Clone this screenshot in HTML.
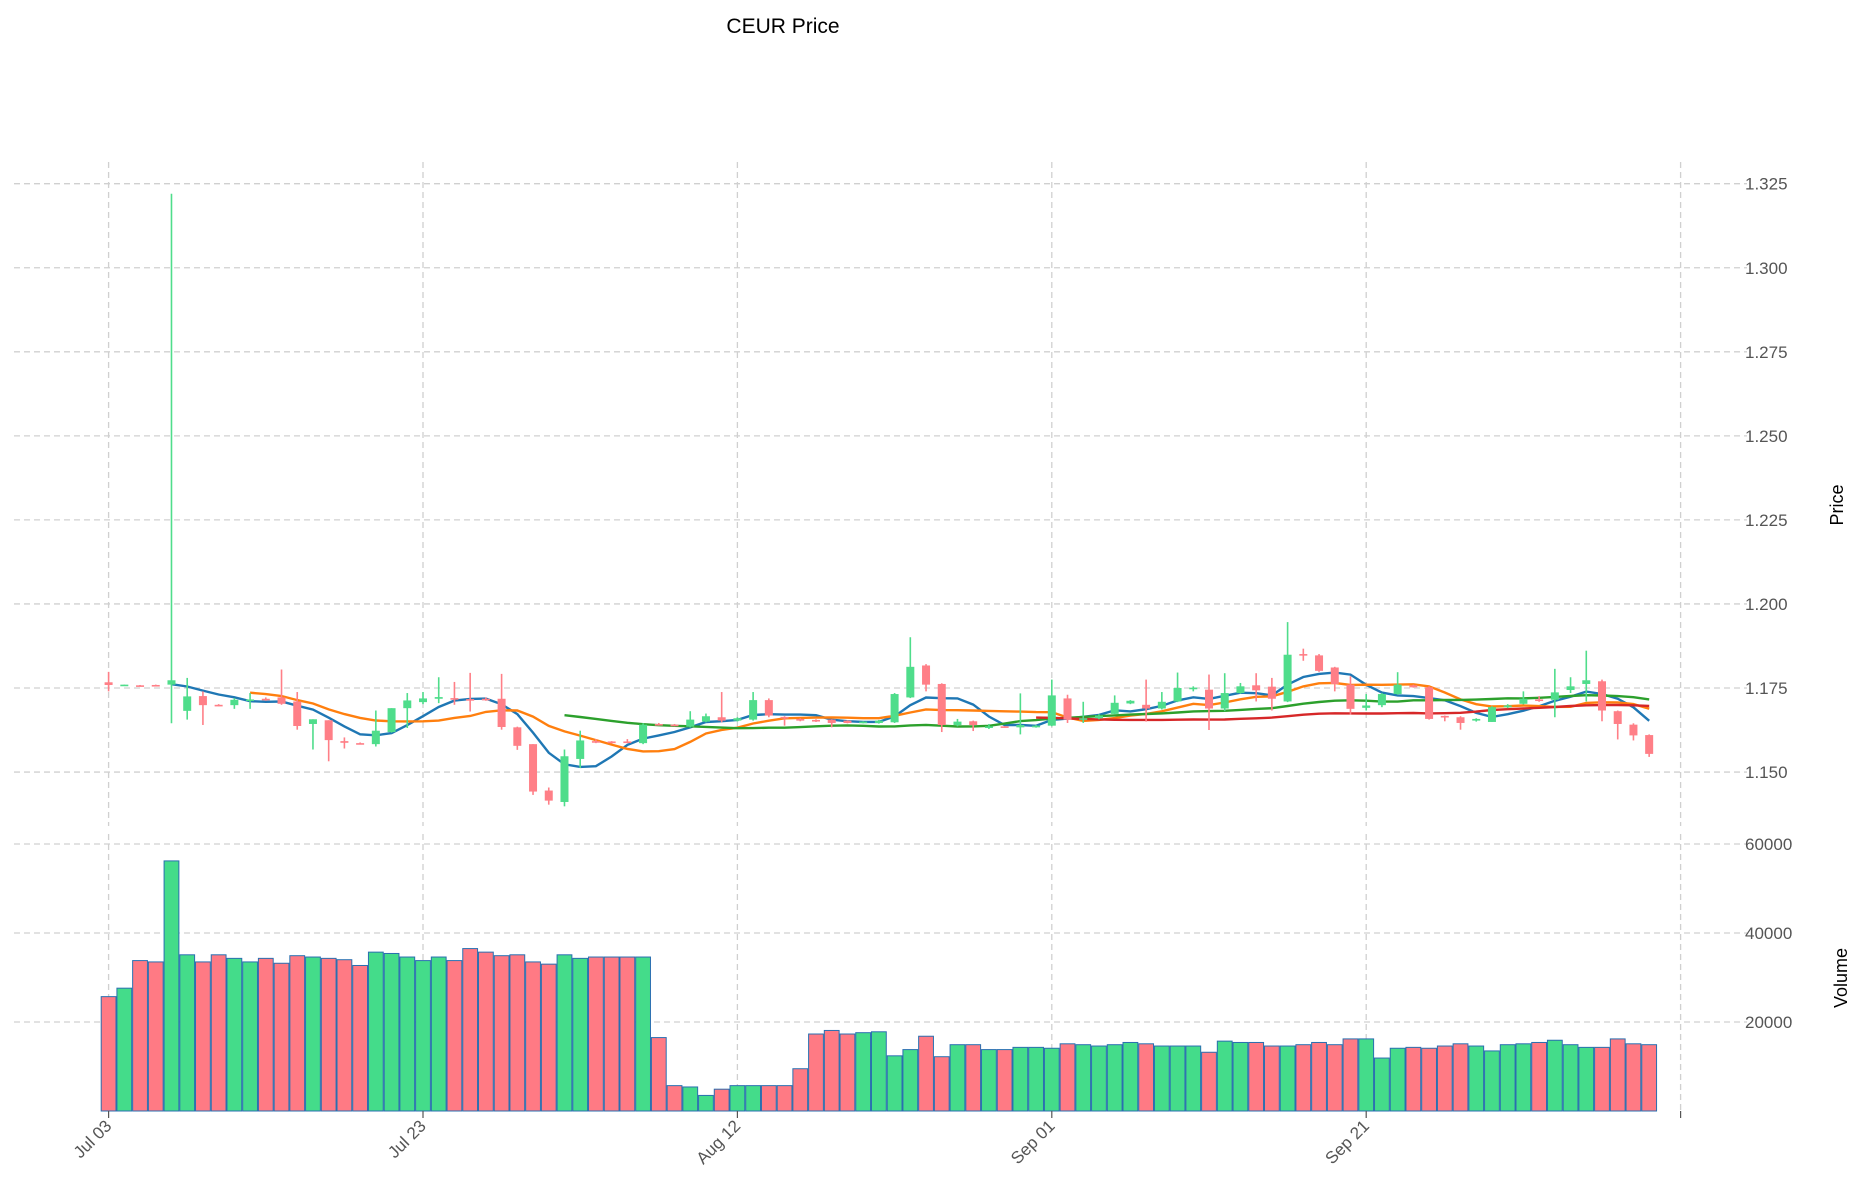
<!DOCTYPE html>
<html><head><meta charset="utf-8">
<style>
html,body{margin:0;padding:0;background:#fff;}
svg{display:block;font-family:"Liberation Sans","DejaVu Sans",sans-serif;}
</style></head>
<body>
<svg id="chart" width="1867" height="1202" viewBox="0 0 1867 1202" xmlns="http://www.w3.org/2000/svg">
<text x="783" y="33" font-size="21" text-anchor="middle" fill="#000">CEUR Price</text>
<g id="grid"></g>
<g id="vol"></g>
<g id="ma"></g>
<g id="candles"></g>
<g id="axes"></g>
</svg>
<script>
const opens=[1.1767,1.1758,1.1758,1.1759,1.1760,1.1682,1.1726,1.1700,1.1699,1.1712,1.1718,1.1722,1.1710,1.1643,1.1654,1.1592,1.1586,1.1583,1.1619,1.1690,1.1708,1.1718,1.1720,1.1717,1.1718,1.1718,1.1633,1.1583,1.1445,1.1411,1.1539,1.1592,1.1591,1.1591,1.1586,1.1643,1.1641,1.1635,1.1650,1.1663,1.1653,1.1656,1.1714,1.1664,1.1658,1.1655,1.1656,1.1653,1.1646,1.1646,1.1648,1.1722,1.1817,1.1762,1.1640,1.1651,1.1631,1.1636,1.1633,1.1633,1.1638,1.1719,1.1656,1.1660,1.1673,1.1704,1.1700,1.1689,1.1710,1.1748,1.1745,1.1689,1.1735,1.1758,1.1754,1.1710,1.1851,1.1847,1.1811,1.1760,1.1691,1.1699,1.1732,1.1758,1.1752,1.1667,1.1663,1.1653,1.1649,1.1693,1.1703,1.1716,1.1715,1.1744,1.1762,1.1770,1.1681,1.1641,1.1610];
const highs=[1.1798,1.1760,1.1759,1.1760,1.3220,1.1780,1.1740,1.1702,1.1720,1.1735,1.1722,1.1805,1.1738,1.1657,1.1654,1.1603,1.1588,1.1683,1.1690,1.1735,1.1738,1.1782,1.1768,1.1795,1.1722,1.1792,1.1635,1.1583,1.1454,1.1567,1.1623,1.1598,1.1592,1.1598,1.1645,1.1646,1.1643,1.1681,1.1674,1.1738,1.1663,1.1738,1.1719,1.1666,1.1660,1.1657,1.1657,1.1654,1.1651,1.1655,1.1735,1.1901,1.1821,1.1764,1.1658,1.1653,1.1643,1.1637,1.1734,1.1640,1.1775,1.1730,1.1709,1.1672,1.1728,1.1714,1.1775,1.1738,1.1796,1.1755,1.1790,1.1794,1.1765,1.1794,1.1780,1.1946,1.1867,1.1851,1.1813,1.1785,1.1732,1.1735,1.1797,1.1760,1.1755,1.1668,1.1666,1.1660,1.1696,1.1702,1.1740,1.1726,1.1807,1.1782,1.1861,1.1775,1.1683,1.1645,1.1612];
const lows=[1.1740,1.1757,1.1756,1.1757,1.1645,1.1656,1.1640,1.1696,1.1688,1.1688,1.1712,1.1700,1.1626,1.1567,1.1532,1.1570,1.1583,1.1576,1.1617,1.1631,1.1702,1.1705,1.1700,1.1680,1.1712,1.1626,1.1566,1.1432,1.1403,1.1398,1.1512,1.1586,1.1585,1.1586,1.1583,1.1638,1.1636,1.1633,1.1648,1.1648,1.1650,1.1653,1.1663,1.1638,1.1651,1.1649,1.1633,1.1645,1.1645,1.1644,1.1646,1.1720,1.1740,1.1619,1.1636,1.1622,1.1628,1.1632,1.1612,1.1632,1.1636,1.1646,1.1646,1.1657,1.1672,1.1702,1.1650,1.1686,1.1708,1.1740,1.1625,1.1681,1.1733,1.1710,1.1683,1.1708,1.1831,1.1798,1.1740,1.1671,1.1683,1.1693,1.1730,1.1751,1.1656,1.1651,1.1626,1.1650,1.1649,1.1690,1.1701,1.1709,1.1663,1.1735,1.1710,1.1651,1.1597,1.1594,1.1545];
const closes=[1.1759,1.1760,1.1757,1.1758,1.1773,1.1725,1.1699,1.1699,1.1715,1.1716,1.1716,1.1703,1.1637,1.1657,1.1595,1.1587,1.1585,1.1623,1.1690,1.1713,1.1719,1.1723,1.1718,1.1715,1.1717,1.1634,1.1578,1.1442,1.1415,1.1547,1.1594,1.1589,1.1586,1.1588,1.1641,1.1641,1.1640,1.1656,1.1666,1.1653,1.1660,1.1714,1.1668,1.1660,1.1653,1.1651,1.1646,1.1646,1.1650,1.1653,1.1732,1.1813,1.1760,1.1640,1.1650,1.1640,1.1636,1.1634,1.1640,1.1638,1.1728,1.1656,1.1660,1.1668,1.1706,1.1712,1.1689,1.1709,1.1750,1.1751,1.1689,1.1735,1.1755,1.1743,1.1718,1.1849,1.1849,1.1801,1.1762,1.1688,1.1698,1.1732,1.1760,1.1752,1.1658,1.1665,1.1646,1.1658,1.1693,1.1698,1.1718,1.1713,1.1737,1.1755,1.1773,1.1683,1.1643,1.1609,1.1554];
const volumes=[25700,27600,33800,33500,56200,35100,33500,35100,34300,33500,34300,33200,34900,34600,34300,34000,32700,35700,35400,34600,33800,34600,33800,36500,35700,34900,35100,33500,33000,35100,34300,34600,34600,34600,34600,16500,5700,5400,3500,4900,5700,5700,5700,5700,9500,17300,18100,17300,17600,17800,12400,13800,16800,12200,14900,14900,13800,13800,14300,14300,14100,15100,14900,14600,14900,15400,15100,14600,14600,14600,13200,15700,15400,15400,14600,14600,14900,15400,14900,16200,16200,11900,14100,14300,14100,14600,15100,14600,13500,14900,15100,15400,15900,14900,14300,14300,16200,15100,14900];
const xTickLabels=["Jul 03","Jul 23","Aug 12","Sep 01","Sep 21",""];
const xTickDays=[0,20,40,60,80,100];
const priceTicks=[1.150,1.175,1.200,1.225,1.250,1.275,1.300,1.325];
const volTicks=[20000,40000,60000];
const maPeriods=[5,10,30,60];
const maColors=["#1f77b4","#ff7f0e","#2ca02c","#d62728"];

const NS="http://www.w3.org/2000/svg";
const X0=108.6, DX=15.72, VB=1111;
function xs(d){return X0+DX*d;}
function yp(p){return 688-(p-1.175)/0.025*84.05;}
function yv(v){return VB-v/20000*89;}
function mk(tag,attrs,parent){const e=document.createElementNS(NS,tag);for(const k in attrs)e.setAttribute(k,attrs[k]);parent.appendChild(e);return e;}
const G=document.getElementById('grid'),V=document.getElementById('vol'),M=document.getElementById('ma'),C=document.getElementById('candles'),A=document.getElementById('axes');
const GREEN="#4fdd8b",RED="#ff7f87",LEFT=14,RIGHT=1747;
priceTicks.forEach(p=>{const l=mk('line',{x1:LEFT,x2:RIGHT,y1:yp(p),y2:yp(p),stroke:"#d0d0d0","stroke-width":1.3,"stroke-dasharray":"6,4"},G);


const t=mk('text',{x:1745,y:yp(p)+6,"font-size":17,fill:"#555"},A);t.textContent=p.toFixed(3);

});
volTicks.forEach(v=>{const l=mk('line',{x1:LEFT,x2:RIGHT,y1:yv(v),y2:yv(v),stroke:"#d0d0d0","stroke-width":1.3,"stroke-dasharray":"6,4"},G);


const t=mk('text',{x:1745,y:yv(v)+6,"font-size":17,fill:"#555"},A);t.textContent=String(v);

});
xTickDays.forEach((d,i)=>{const x=xs(d);
const l1=mk('line',{x1:x,x2:x,y1:162,y2:826,stroke:"#d0d0d0","stroke-width":1.3,"stroke-dasharray":"6,4"},G);


const l2=mk('line',{x1:x,x2:x,y1:834,y2:VB,stroke:"#d0d0d0","stroke-width":1.3,"stroke-dasharray":"6,4"},G);


const tk=mk('line',{x1:x,x2:x,y1:VB,y2:VB+7,stroke:"#555","stroke-width":1.2},A);


if(xTickLabels[i]){const t=mk('text',{x:x+4,y:VB+16,"font-size":17,fill:"#555","text-anchor":"end",transform:`rotate(-45 ${x+4} ${VB+16})`},A);t.textContent=xTickLabels[i];

}});
volumes.forEach((v,i)=>{const up=closes[i]>=opens[i];
const r=mk('rect',{x:xs(i)-7.4,y:yv(v),width:14.8,height:VB-yv(v),fill:up?"#44dc8a":"#ff7a84",stroke:"#2a6fb0","stroke-width":1},V);

});
maPeriods.forEach((n,k)=>{let pts=[];for(let i=n-1;i<closes.length;i++){let s=0;for(let j=i-n+1;j<=i;j++)s+=closes[j];pts.push(xs(i).toFixed(1)+","+yp(s/n).toFixed(1));}
if(pts.length){const pl=mk('polyline',{points:pts.join(" "),fill:"none",stroke:maColors[k],"stroke-width":2.4},M);

}});
closes.forEach((c,i)=>{const o=opens[i],up=c>=o,col=up?GREEN:RED,x=xs(i);
const w=mk('line',{x1:x,x2:x,y1:yp(highs[i]),y2:yp(lows[i]),stroke:col,"stroke-width":1.6},C);


const top=yp(Math.max(o,c)),bot=yp(Math.min(o,c));
const b=mk('rect',{x:x-4,y:top,width:8,height:Math.max(bot-top,1.6),fill:col},C);

});
const pt=mk('text',{x:1843,y:505,"font-size":18,fill:"#000","text-anchor":"middle",transform:"rotate(-90 1843 505)"},A);pt.textContent="Price";


const vt=mk('text',{x:1847,y:978,"font-size":18,fill:"#000","text-anchor":"middle",transform:"rotate(-90 1847 978)"},A);vt.textContent="Volume";


</script>
</body></html>
